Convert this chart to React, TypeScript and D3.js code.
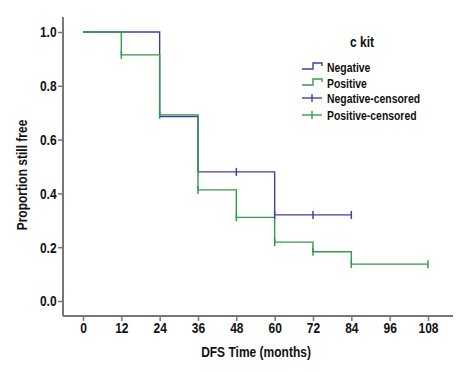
import React, { useEffect, useRef } from "react";
import * as d3 from "d3";

// Kaplan-Meier estimates
const negTimes = [0, 24, 36, 60, 84];
const negSurv = [1.0, 0.686, 0.48, 0.32, 0.32];
const posTimes = [0, 12, 24, 36, 48, 60, 72, 84, 108];
const posSurv = [1.0, 0.915, 0.692, 0.413, 0.311, 0.219, 0.183, 0.137, 0.137];

const negCensorTimes = [48, 60, 72, 84];
const negCensorSurv = [0.48, 0.32, 0.32, 0.32];
const posCensorTimes = [12, 24, 36, 48, 60, 72, 84, 108];
const posCensorSurv = [0.915, 0.692, 0.413, 0.311, 0.219, 0.183, 0.137, 0.137];

const xTicks = [0, 12, 24, 36, 48, 60, 72, 84, 96, 108];
const yTicks = [0, 0.2, 0.4, 0.6, 0.8, 1.0];
const legendLabels = ["Negative", "Positive", "Negative-censored", "Positive-censored"];

const NEG = "#3f41a0";
const POS = "#2f9c4c";
const AXIS = "#777";
const FONT = "'Liberation Sans', Arial, sans-serif";
const NARROW = 0.8; // the original uses a condensed bold face

const App = () => {
  const svgRef = useRef<SVGSVGElement>(null);

  useEffect(() => {
    const width = 474;
    const height = 372;

    const x = d3.scaleLinear().domain([0, 108]).range([83, 428]);
    const y = d3.scaleLinear().domain([0, 1]).range([301, 32]);
    const left = 63, right = 453, top = 17, bottom = 316;

    const svg = d3.select(svgRef.current)
      .attr("width", width)
      .attr("height", height);
    svg.selectAll("*").remove();

    svg.append("rect").attr("width", width).attr("height", height).attr("fill", "#fff");

    const label = (px: number, py: number, size: number, txt: string, anchor = "middle", rot = 0) =>
      svg.append("text")
        .attr("transform", `translate(${px},${py}) rotate(${rot}) scale(${NARROW},1)`)
        .attr("text-anchor", anchor)
        .style("font-family", FONT).style("font-weight", "bold").style("font-size", `${size}px`)
        .attr("fill", "#111")
        .text(txt);

    // axes
    const xAxis = svg.append("g")
      .attr("transform", `translate(0,${bottom})`)
      .call(d3.axisBottom(x).tickValues(xTicks).tickSize(5).tickSizeOuter(0).tickFormat(d3.format("d")));
    const yAxis = svg.append("g")
      .attr("transform", `translate(${left},0)`)
      .call(d3.axisLeft(y).tickValues(yTicks).tickSize(5).tickSizeOuter(0).tickFormat(d3.format(".1f")));

    [xAxis, yAxis].forEach(g => {
      g.select(".domain").remove();
      g.selectAll(".tick line").attr("stroke", AXIS).attr("stroke-width", 1.5);
      g.selectAll(".tick text")
        .attr("fill", "#111")
        .attr("transform", `scale(${NARROW},1)`)
        .style("font-family", FONT)
        .style("font-weight", "bold")
        .style("font-size", "15px");
    });
    xAxis.selectAll(".tick text").attr("y", 6);
    yAxis.selectAll(".tick text").attr("x", -8);

    svg.append("line").attr("x1", left).attr("x2", left).attr("y1", top).attr("y2", bottom)
      .attr("stroke", AXIS).attr("stroke-width", 2);
    svg.append("line").attr("x1", left).attr("x2", right).attr("y1", bottom).attr("y2", bottom)
      .attr("stroke", AXIS).attr("stroke-width", 2);

    // axis titles
    label(256, 357, 15, "DFS Time (months)");
    label(27, 175, 15, "Proportion still free", "middle", -90);

    // survival curves
    const line = d3.line<[number, number]>()
      .x(d => x(d[0]))
      .y(d => y(d[1]))
      .curve(d3.curveStepAfter);

    const curves = [
      { times: negTimes, surv: negSurv, color: NEG, ct: negCensorTimes, cs: negCensorSurv },
      { times: posTimes, surv: posSurv, color: POS, ct: posCensorTimes, cs: posCensorSurv },
    ];

    curves.forEach(c => {
      const pts = c.times.map((t, i) => [t, c.surv[i]] as [number, number]);
      svg.append("path")
        .attr("d", line(pts))
        .attr("fill", "none")
        .attr("stroke", c.color)
        .attr("stroke-width", 1.4);
    });

    curves.forEach(c => {
      svg.append("g").selectAll("line")
        .data(c.ct.map((t, i) => [t, c.cs[i]]))
        .join("line")
        .attr("x1", d => x(d[0])).attr("x2", d => x(d[0]))
        .attr("y1", d => y(d[1]) - 4).attr("y2", d => y(d[1]) + 4)
        .attr("stroke", c.color)
        .attr("stroke-width", 1.5);
    });

    // legend
    label(362, 47, 15, "c kit");

    const rowY = [67, 83, 98, 115];
    const colors = [NEG, POS, NEG, POS];
    legendLabels.forEach((txt, i) => {
      const yy = rowY[i];
      if (i < 2) {
        svg.append("path")
          .attr("d", `M302,${yy + 2}H313V${yy - 4}H322V${yy - 1}`)
          .attr("fill", "none").attr("stroke", colors[i]).attr("stroke-width", 1.4);
      } else {
        svg.append("line").attr("x1", 302).attr("x2", 322).attr("y1", yy).attr("y2", yy)
          .attr("stroke", colors[i]).attr("stroke-width", 1.4);
        svg.append("line").attr("x1", 312).attr("x2", 312).attr("y1", yy - 4).attr("y2", yy + 4)
          .attr("stroke", colors[i]).attr("stroke-width", 1.4);
      }
      label(327, yy + 4.5, 13, txt, "start");
    });
  }, []);

  return <svg ref={svgRef} style={{ position: "absolute", left: 0, top: 0 }}></svg>;
};

export default App;
